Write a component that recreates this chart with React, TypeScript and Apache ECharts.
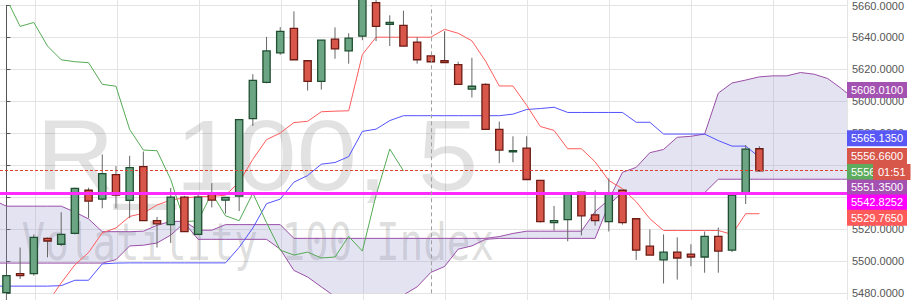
import React, { useEffect, useRef } from "react";
import * as echarts from "echarts";

// ---- candle data (index = bar slot) ----
const opens = [
  5480.36, 5492.27, 5492.27, 5514.36, 5510.68, 5517.43, 5544.44, 5538.91, 5554.26, 5538.18,
  5559.17, 5525.41, 5522.96, 5540.14, 5516.82, 5542.47, 5538.3, 5540.75, 5589.24, 5611.95,
  5630.36, 5645.7, 5625.45, 5612.56, 5638.95, 5631.58, 5640.79, 5661.84, 5648.16, 5647.54,
  5637.11, 5628.52, 5625.45, 5622.99, 5607.65, 5610.72, 5582.49, 5568.86, 5570.83, 5550.57,
  5524.18, 5526.03, 5543.21, 5529.09, 5524.8, 5544.44, 5526.64, 5509.45, 5500.86, 5505.77,
  5504.55, 5502.7, 5515.59, 5507.0, 5541.98, 5570.4,
];
const closes = [
  5491.04, 5491.04, 5514.98, 5512.71, 5516.82, 5545.66, 5537.69, 5554.87, 5541.37, 5558.55,
  5525.41, 5523.45, 5540.14, 5518.54, 5540.14, 5538.3, 5540.02, 5588.62, 5613.17, 5631.58,
  5643.86, 5626.06, 5612.56, 5638.34, 5632.81, 5639.56, 5664.3, 5646.93, 5649.38, 5634.65,
  5626.06, 5624.83, 5624.22, 5610.72, 5609.49, 5582.49, 5569.6, 5569.17, 5551.19, 5524.8,
  5525.41, 5542.6, 5528.48, 5525.41, 5542.6, 5524.18, 5507.0, 5503.93, 5505.77, 5502.09,
  5502.7, 5515.59, 5506.39, 5541.37, 5570.21, 5556.66,
];
const lows = [
  5472.82, 5488.96, 5491.04, 5502.46, 5509.45, 5516.82, 5527.01, 5533.14, 5533.14, 5527.01,
  5525.41, 5508.6, 5511.48, 5518.54, 5516.82, 5533.7, 5529.89, 5531.43, 5584.7, 5611.33,
  5629.13, 5626.06, 5606.79, 5607.4, 5626.68, 5623.61, 5638.34, 5637.72, 5634.65, 5634.65,
  5623.61, 5624.83, 5624.22, 5610.72, 5602.49, 5582.49, 5561.38, 5561.99, 5551.19, 5524.37,
  5519.27, 5512.52, 5516.21, 5522.34, 5518.66, 5522.96, 5500.86, 5503.93, 5486.13, 5488.59,
  5496.94, 5492.88, 5492.88, 5505.77, 5535.85, 5556.28,
];
const highs = [
  5492.64, 5508.6, 5516.82, 5514.86, 5530.69, 5546.03, 5546.03, 5566.9, 5559.53, 5565.98,
  5568.68, 5527.74, 5545.85, 5540.94, 5542.17, 5548.92, 5540.02, 5588.62, 5617.04, 5640.36,
  5646.5, 5656.32, 5625.45, 5638.34, 5646.31, 5642.63, 5668.59, 5664.91, 5653.86, 5656.75,
  5640.18, 5628.52, 5643.86, 5624.83, 5627.29, 5611.33, 5587.4, 5578.19, 5578.19, 5550.57,
  5534.62, 5542.6, 5543.21, 5544.44, 5551.8, 5544.44, 5526.64, 5519.89, 5516.82, 5514.98,
  5510.68, 5518.66, 5521.12, 5541.98, 5572.67, 5571.93,
];

// ---- Ichimoku lines ----
const tenkanStart = 3;
const tenkan = [
  5474.04, 5486.5, 5497.79, 5505.53, 5517.8, 5520.87, 5528.05, 5530.08, 5535.23, 5538.3,
  5539.71, 5540.32, 5540.63, 5541.37, 5549.53, 5563.83, 5576.1, 5580.22, 5586.78, 5587.58,
  5593.53, 5593.9, 5594.15, 5629.31, 5640.18, 5640.18, 5640.18, 5640.18, 5640.18, 5645.09,
  5642.63, 5637.91, 5625.2, 5609.67, 5609.67, 5597.59, 5584.33, 5581.87, 5570.4, 5570.4,
  5562.23, 5550.57, 5545.42, 5537.26, 5526.64, 5519.27, 5519.27, 5519.27, 5519.27, 5519.27,
  5516.82, 5529.77, 5529.77,
];
const kijunStart = -1;
const kijun = [
  5484.48, 5484.48, 5484.48, 5484.48, 5484.48, 5484.78, 5488.16, 5488.16, 5498.41, 5498.9,
  5499.02, 5499.02, 5499.02, 5499.02, 5499.02, 5499.02, 5499.02, 5499.02, 5508.72, 5520.87,
  5536.03, 5538.91, 5549.53, 5553.64, 5560.76, 5561.8, 5565.49, 5581.26, 5582.67, 5588.01,
  5591.08, 5591.08, 5591.08, 5591.08, 5591.08, 5591.08, 5591.08, 5591.08, 5592.06, 5594.95,
  5595.56, 5596.36, 5593.1, 5593.1, 5593.1, 5593.1, 5593.1, 5586.97, 5586.97, 5579.6,
  5579.6, 5579.6, 5579.6, 5575.49, 5572.05, 5572.05, 5565.14,
];
const laggingStart = 0;
const laggingSpan = [
  5664.3, 5646.93, 5649.38, 5634.65, 5626.06, 5624.83, 5624.22, 5610.72, 5609.49, 5582.49,
  5569.6, 5569.17, 5551.19, 5524.8, 5525.41, 5542.6, 5528.48, 5525.41, 5542.6, 5524.18,
  5507.0, 5503.93, 5505.77, 5502.09, 5502.7, 5515.59, 5506.39, 5541.37, 5570.21, 5556.66,
];
const cloudStart = -1;
const cloudTop = [
  5538.48, 5534.49, 5534.49, 5534.49, 5534.49, 5534.49, 5530.81, 5526.52, 5518.54, 5518.54,
  5518.54, 5518.84, 5522.53, 5524.98, 5524.98, 5519.46, 5519.46, 5522.96, 5522.96, 5522.96,
  5522.96, 5522.96, 5514.36, 5514.36, 5514.36, 5514.36, 5514.36, 5514.36, 5514.36, 5514.36,
  5514.36, 5514.36, 5514.36, 5514.36, 5514.36, 5514.36, 5514.36, 5515.47, 5517.43, 5518.84,
  5518.84, 5518.84, 5518.84, 5518.84, 5531.12, 5538.48, 5555.67, 5558.74, 5567.94, 5569.97,
  5577.58, 5578.19, 5579.6, 5605.2, 5611.52, 5613.36, 5615.38, 5616.0, 5616.0, 5618.08,
  5617.04, 5614.28, 5608.01, 5601.08,
];
const cloudBottom = [
  5498.9, 5498.9, 5498.9, 5498.9, 5498.9, 5498.9, 5498.9, 5498.9, 5498.9, 5501.05,
  5509.64, 5510.07, 5511.48, 5516.39, 5524.06, 5513.75, 5513.75, 5513.75, 5513.75, 5513.75,
  5513.75, 5507.61, 5494.3, 5490.18, 5484.05, 5477.91, 5475.88, 5475.88, 5476.93, 5477.91,
  5478.95, 5484.05, 5493.07, 5496.75, 5507.61, 5509.64, 5513.75, 5514.36, 5514.36, 5514.36,
  5514.36, 5514.36, 5514.36, 5514.36, 5514.36, 5535.41, 5543.09, 5542.96, 5542.96, 5542.96,
  5542.96, 5542.96, 5542.96, 5551.35, 5551.35, 5551.35, 5551.35, 5551.35, 5551.35, 5551.35,
  5551.35, 5551.35, 5551.35, 5551.35,
];

// ---- axis / levels ----
const yMin = 5480;
const yMax = 5660;
const yStep = 20;
const xMin = -0.47;
const xMax = 61.4;
const crosshairIndex = 31;
const lastClose = 5556.66;
const alertLevel = 5542.8252;
const countdown = "01:51";
const symbolTitle = "R_100, 5";
const symbolName = "Volatility 100 Index";
const priceTags = [
  { value: 5608.01, color: "#a452b1", shift: 1.3 },
  { value: 5565.135, color: "#5858f6", shift: -18.9 },
  { value: 5556.66, color: "#d8574b", shift: -14.8 },
  { value: 5556.66, color: "#5dab5d", shift: 1.3 },
  { value: 5551.35, color: "#a452b1", shift: 8.2 },
  { value: 5542.8252, color: "#ff00ff", shift: 9.6 },
  { value: 5529.765, color: "#ff5a5a", shift: 4 },
];

const UP_FILL = "#6ba583";
const UP_EDGE = "#1f4f30";
const DN_FILL = "#d8564a";
const DN_EDGE = "#6b1c14";
const PURPLE = "#9b4fa8";

export default function App() {
  const ref = useRef<HTMLDivElement>(null);
  useEffect(() => {
    const chart = echarts.init(ref.current!, null, { renderer: "svg" });
    const candleData = opens.map((o, i) => [i, o, closes[i], lows[i], highs[i]]);
    const pairs = (start: number, arr: number[]) => arr.map((v, k) => [start + k, v]);
    const cloudData = cloudTop.map((t, k) => [cloudStart + k, t, cloudBottom[k]]);

    const option: any = {
      animation: false,
      backgroundColor: "#ffffff",
      grid: [
        { left: 0, right: 66, top: 0, bottom: 6.7 },
        { left: 35, right: 66, top: 0, bottom: 0 },
      ],
      xAxis: [
        { type: "value", min: xMin, max: xMax, show: false, gridIndex: 0 },
        {
          type: "value",
          gridIndex: 1,
          min: 0,
          max: 59.36,
          interval: 6,
          axisLine: { show: false },
          axisTick: { show: false },
          axisLabel: { show: false },
          splitLine: { show: true, lineStyle: { color: "#e4e4e4", width: 1 } },
        },
      ],
      yAxis: [
        {
          type: "value",
          gridIndex: 0,
          position: "right",
          min: yMin,
          max: yMax,
          interval: yStep,
          axisLine: { show: true, lineStyle: { color: "#555", width: 1 } },
          axisTick: { show: true, length: 4, lineStyle: { color: "#555" } },
          axisLabel: {
            show: true,
            margin: 5,
            color: "#555",
            fontSize: 11,
            fontFamily: "Liberation Sans",
            showMinLabel: true,
            showMaxLabel: true,
            verticalAlignMaxLabel: "middle",
            verticalAlignMinLabel: "middle",
            formatter: (v: number) => v.toFixed(4),
          },
          splitLine: { show: true, lineStyle: { color: "#e4e4e4", width: 1 } },
        },
        { type: "value", gridIndex: 1, min: 0, max: 1, show: false },
      ],
      series: [
        {
          name: "cloudFill",
          type: "custom",
          data: cloudData,
          encode: { x: 0, y: [1, 2] },
          clip: true,
          z: 2,
          silent: true,
          renderItem: (params: any, api: any) => {
            if (params.dataIndex !== 0) return null;
            const upper = cloudData.map((d) => api.coord([d[0], d[1]]));
            const lower = cloudData.map((d) => api.coord([d[0], d[2]])).reverse();
            return {
              type: "polygon",
              shape: { points: upper.concat(lower) },
              style: { fill: "rgba(150,150,205,0.27)", stroke: "none" },
            };
          },
        },
        {
          name: "cloudTop",
          type: "line",
          data: pairs(cloudStart, cloudTop),
          symbol: "none",
          lineStyle: { color: PURPLE, width: 1 },
          z: 2,
          silent: true,
        },
        {
          name: "cloudBottom",
          type: "line",
          data: pairs(cloudStart, cloudBottom),
          symbol: "none",
          lineStyle: { color: PURPLE, width: 1 },
          z: 2,
          silent: true,
        },
        {
          name: "kijun",
          type: "line",
          data: pairs(kijunStart, kijun),
          symbol: "none",
          lineStyle: { color: "#5252ff", width: 1 },
          z: 3,
          silent: true,
        },
        {
          name: "tenkan",
          type: "line",
          data: pairs(tenkanStart, tenkan),
          symbol: "none",
          lineStyle: { color: "#ff5c5c", width: 1 },
          z: 3,
          silent: true,
        },
        {
          name: "lagging",
          type: "line",
          data: pairs(laggingStart, laggingSpan),
          symbol: "none",
          lineStyle: { color: "#55aa55", width: 1 },
          z: 3,
          silent: true,
        },
        {
          name: "candles",
          type: "custom",
          data: candleData,
          encode: { x: 0, y: [1, 2, 3, 4] },
          z: 4,
          silent: true,
          renderItem: (params: any, api: any) => {
            const i = api.value(0);
            const o = api.value(1);
            const c = api.value(2);
            const l = api.value(3);
            const h = api.value(4);
            const top = api.coord([i, Math.max(o, c)]);
            const bot = api.coord([i, Math.min(o, c)]);
            const hi = api.coord([i, h]);
            const lo = api.coord([i, l]);
            const w = api.size([1, 0])[0] * 0.53;
            const up = c >= o;
            const x = top[0];
            return {
              type: "group",
              children: [
                {
                  type: "line",
                  shape: { x1: x, y1: hi[1], x2: x, y2: lo[1] },
                  style: { stroke: "#666", lineWidth: 1 },
                },
                {
                  type: "rect",
                  shape: { x: x - w / 2, y: top[1], width: w, height: Math.max(bot[1] - top[1], 1) },
                  style: { fill: up ? UP_FILL : DN_FILL, stroke: up ? UP_EDGE : DN_EDGE, lineWidth: 1.3 },
                },
              ],
            };
          },
        },
        {
          name: "levels",
          type: "line",
          data: [[closes.length - 1, lastClose]],
          symbol: "none",
          lineStyle: { opacity: 0 },
          z: 5,
          silent: true,
          markLine: {
            silent: true,
            symbol: ["none", "none"],
            label: { show: false },
            data: [
              { yAxis: alertLevel, lineStyle: { color: "#ff2bff", width: 3, type: "solid" } },
              { yAxis: lastClose, lineStyle: { color: "#e0422f", width: 1, type: [3, 2] } },
              { xAxis: crosshairIndex, lineStyle: { color: "#a0a0a0", width: 1, type: [4, 3] } },
            ],
          },
        },
      ],
    };
    chart.setOption(option);

    const yPix = (v: number) => chart.convertToPixel({ yAxisIndex: 0 }, v) as number;
    const tagFont = '11px "Liberation Sans"';
    const tags: any[] = priceTags.map((t, k) => ({
      id: "tag" + k,
      type: "text",
      x: 847,
      y: yPix(t.value) + t.shift,
      z: 20,
      silent: true,
      style: {
        text: t.value.toFixed(4),
        fill: "#ffffff",
        font: tagFont,
        lineHeight: 12,
        backgroundColor: t.color,
        padding: [2, 4, 2, 4],
        align: "left",
        verticalAlign: "middle",
      },
    }));
    const cur = priceTags[3];
    tags.push({
      id: "countdown",
      type: "text",
      x: 873,
      y: yPix(cur.value) + cur.shift,
      z: 21,
      silent: true,
      style: {
        text: countdown,
        fill: "#ffffff",
        font: tagFont,
        lineHeight: 12,
        backgroundColor: "#d8574b",
        padding: [2, 5, 2, 5],
        align: "left",
        verticalAlign: "middle",
      },
    });
    const watermarks = [
      {
        id: "wm1",
        type: "text",
        x: 36,
        y: 155,
        scaleX: 1.09,
        z: 1,
        silent: true,
        style: {
          text: symbolTitle,
          font: '100px "Liberation Sans"',
          fill: "rgba(0,0,0,0.115)",
          verticalAlign: "middle",
          align: "left",
        },
      },
      {
        id: "wm2",
        type: "text",
        x: 21.5,
        y: 242,
        scaleX: 0.755,
        z: 1,
        silent: true,
        style: {
          text: symbolName,
          font: '52px "DejaVu Sans Mono"',
          fill: "rgba(0,0,0,0.15)",
          verticalAlign: "middle",
          align: "left",
        },
      },
    ];
    chart.setOption({ graphic: [...watermarks, ...tags] });
    return () => chart.dispose();
  }, []);
  return (
    <div
      ref={ref}
      style={{ position: "fixed", left: 0, top: 0, width: 913, height: 300, background: "#fff" }}
    />
  );
}
